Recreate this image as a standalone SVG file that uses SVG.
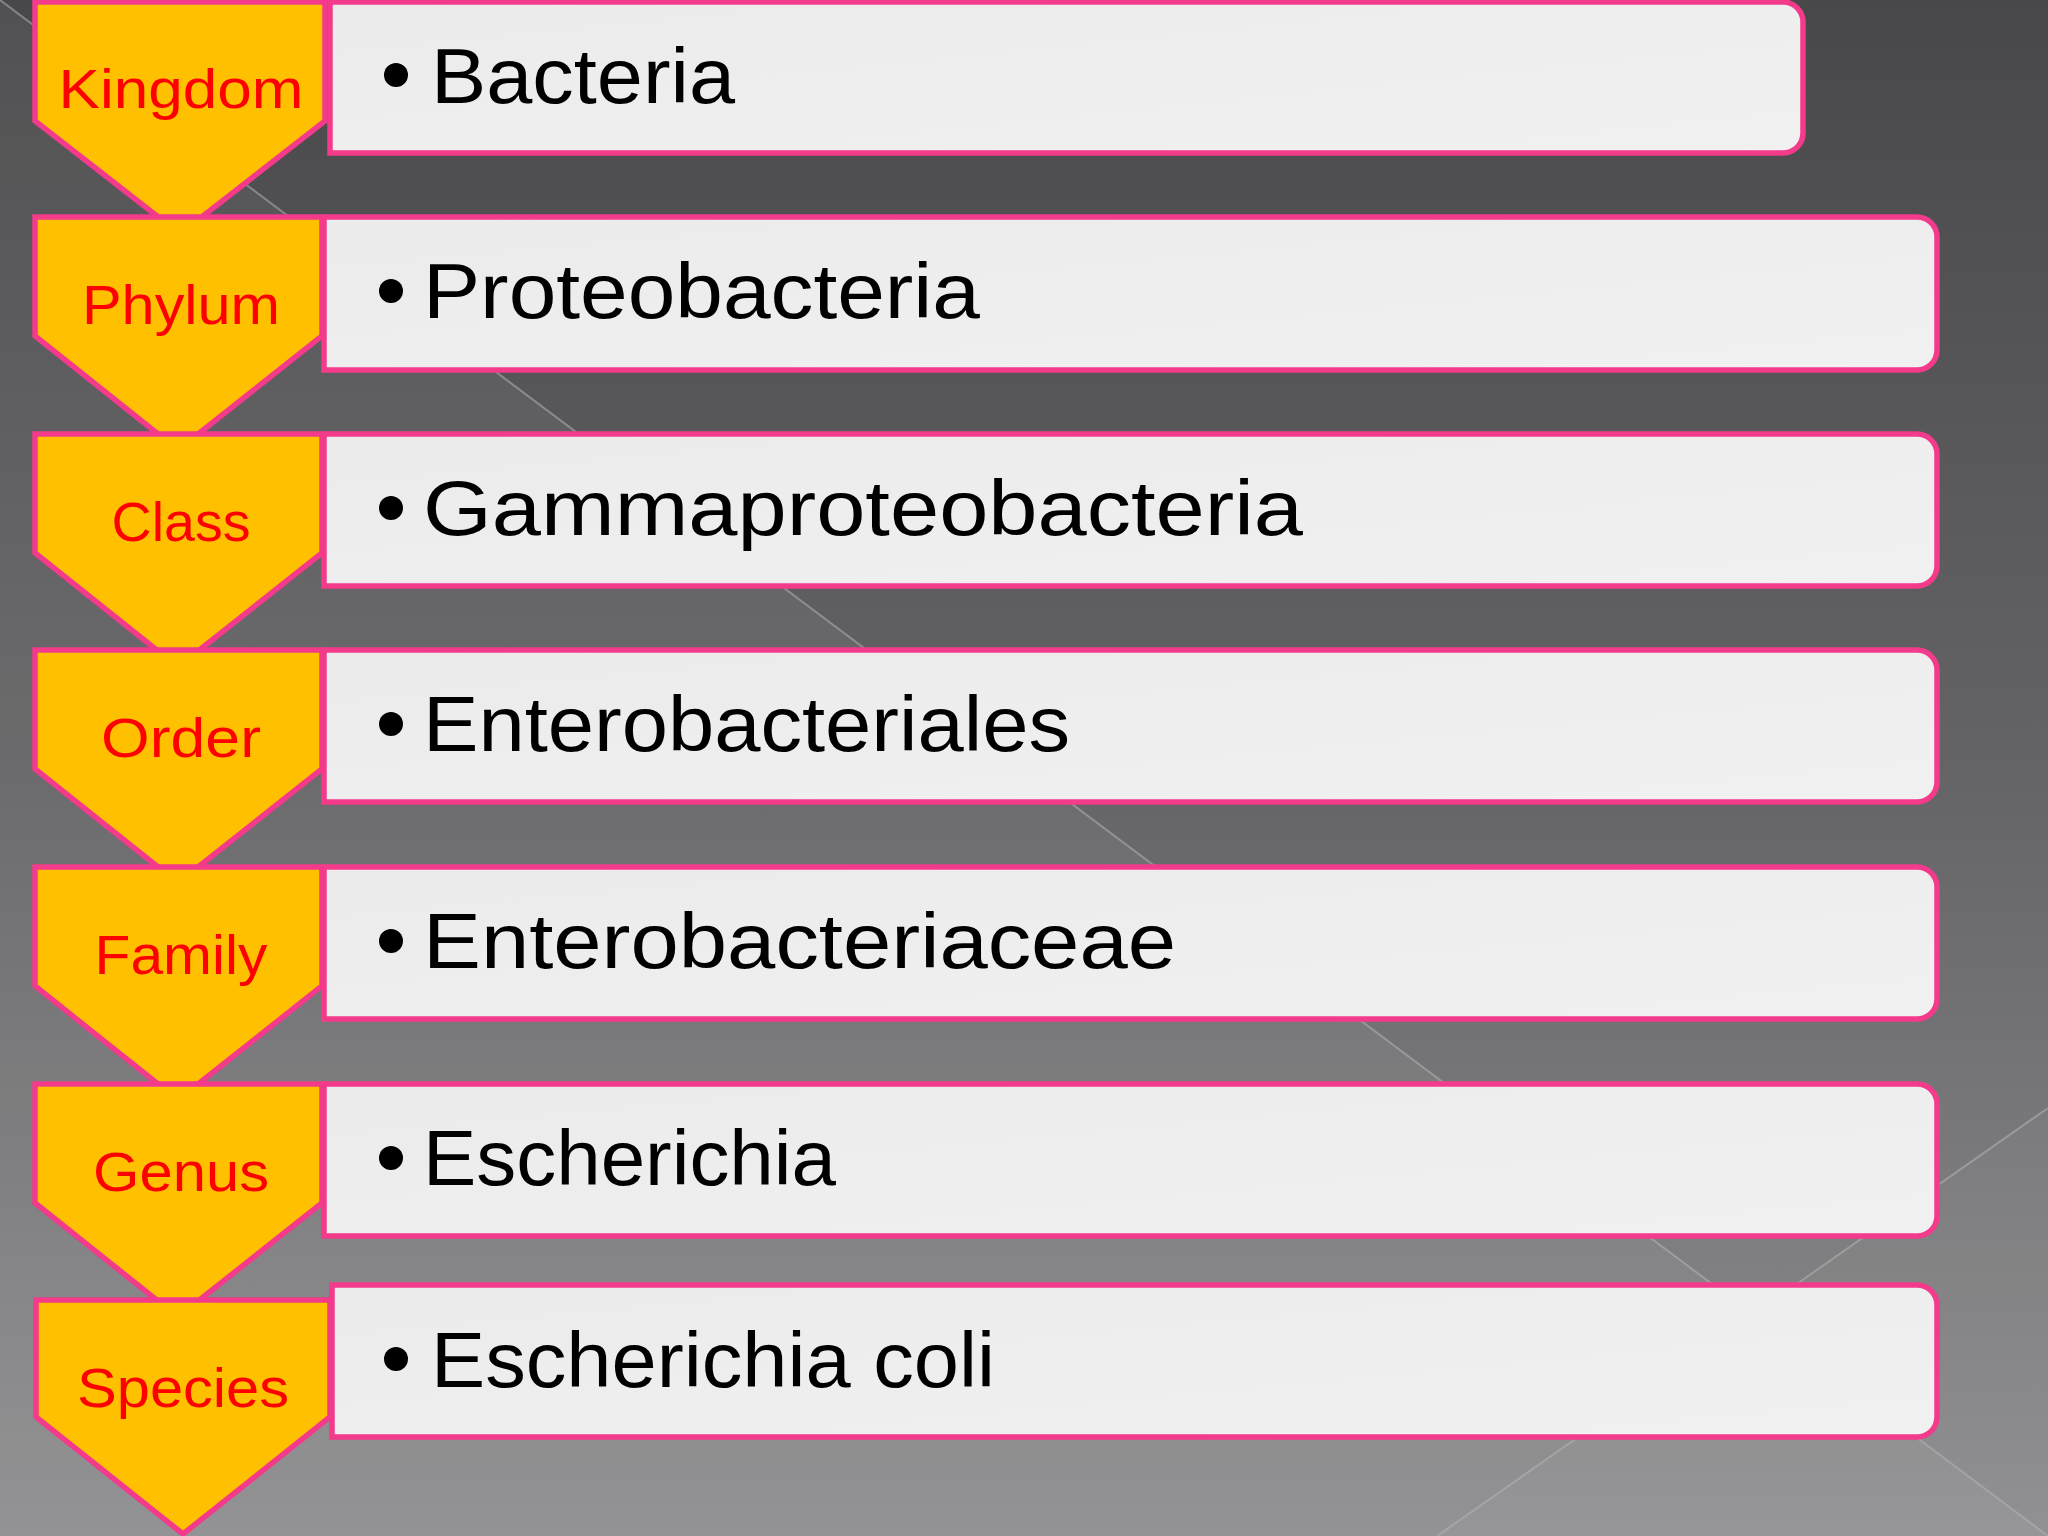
<svg xmlns="http://www.w3.org/2000/svg" width="2048" height="1536" viewBox="0 0 2048 1536">
  <defs>
    <linearGradient id="bg" x1="0" y1="0" x2="0" y2="1">
      <stop offset="0" stop-color="#48484a"/>
      <stop offset="0.5" stop-color="#646466"/>
      <stop offset="1" stop-color="#8e8e90"/>
    </linearGradient>
    <linearGradient id="boxfill" x1="0" y1="0" x2="1" y2="1">
      <stop offset="0" stop-color="#ebebeb"/>
      <stop offset="1" stop-color="#f1f1f2"/>
    </linearGradient>
    <style>
      .chev { fill: #ffc000; stroke: #f43a8a; stroke-width: 5.5; stroke-linejoin: miter; }
      .box { fill: url(#boxfill); stroke: #f43a8a; stroke-width: 5.5; }
      .lbl { font-family: "Liberation Sans", Arial, sans-serif; font-size: 56px; fill: #ff0000; text-anchor: middle; }
      .txt { font-family: "Liberation Sans", Arial, sans-serif; font-size: 77px; fill: #000000; }
      .dot { fill: #000000; }
      .deco { stroke: #b4b4b6; stroke-width: 2; opacity: 0.55; fill: none; }
    </style>
  </defs>

  <!-- background -->
  <rect x="0" y="0" width="2048" height="1536" fill="url(#bg)"/>
  <polygon points="0,0 2048,1536 0,1536" fill="#ffffff" opacity="0.05"/>
  <polygon points="2048,1108 1437,1536 2048,1536" fill="#ffffff" opacity="0.03"/>
  <line class="deco" x1="0" y1="0" x2="2048" y2="1536"/>
  <line class="deco" x1="2048" y1="1108" x2="1437" y2="1536"/>

  <g id="row-kingdom">
    <polygon class="chev" points="35,2 325,2 325,121 180,234 35,121"/>
    <path class="box" d="M330,2 H1783 A20,20 0 0 1 1803,22 V133 A20,20 0 0 1 1783,153 H330 Z"/>
    <text class="lbl" x="181" y="108" textLength="245" lengthAdjust="spacingAndGlyphs">Kingdom</text>
    <circle class="dot" cx="396" cy="75" r="12"/>
    <text class="txt" x="431" y="103" textLength="304" lengthAdjust="spacingAndGlyphs">Bacteria</text>
  </g>

  <g id="row-phylum">
    <polygon class="chev" points="35,217 322,217 322,336 178,450 35,336"/>
    <path class="box" d="M324,217 H1917 A20,20 0 0 1 1937,237 V350 A20,20 0 0 1 1917,370 H324 Z"/>
    <text class="lbl" x="181" y="324" textLength="198" lengthAdjust="spacingAndGlyphs">Phylum</text>
    <circle class="dot" cx="391" cy="291" r="12"/>
    <text class="txt" x="423" y="318" textLength="557" lengthAdjust="spacingAndGlyphs">Proteobacteria</text>
  </g>

  <g id="row-class">
    <polygon class="chev" points="35,434 322,434 322,553 178,667 35,553"/>
    <path class="box" d="M324,434 H1917 A20,20 0 0 1 1937,454 V566 A20,20 0 0 1 1917,586 H324 Z"/>
    <text class="lbl" x="181" y="541" textLength="139" lengthAdjust="spacingAndGlyphs">Class</text>
    <circle class="dot" cx="391" cy="508" r="12"/>
    <text class="txt" x="423" y="535" textLength="880" lengthAdjust="spacingAndGlyphs">Gammaproteobacteria</text>
  </g>

  <g id="row-order">
    <polygon class="chev" points="35,650 322,650 322,769 178,883 35,769"/>
    <path class="box" d="M324,650 H1917 A20,20 0 0 1 1937,670 V782 A20,20 0 0 1 1917,802 H324 Z"/>
    <text class="lbl" x="181" y="757" textLength="160" lengthAdjust="spacingAndGlyphs">Order</text>
    <circle class="dot" cx="391" cy="724" r="12"/>
    <text class="txt" x="423" y="751" textLength="647" lengthAdjust="spacingAndGlyphs">Enterobacteriales</text>
  </g>

  <g id="row-family">
    <polygon class="chev" points="35,867 322,867 322,986 178,1100 35,986"/>
    <path class="box" d="M324,867 H1917 A20,20 0 0 1 1937,887 V999 A20,20 0 0 1 1917,1019 H324 Z"/>
    <text class="lbl" x="181" y="974" textLength="173" lengthAdjust="spacingAndGlyphs">Family</text>
    <circle class="dot" cx="391" cy="941" r="12"/>
    <text class="txt" x="423" y="968" textLength="753" lengthAdjust="spacingAndGlyphs">Enterobacteriaceae</text>
  </g>

  <g id="row-genus">
    <polygon class="chev" points="35,1084 322,1084 322,1203 178,1317 35,1203"/>
    <path class="box" d="M324,1084 H1917 A20,20 0 0 1 1937,1104 V1216 A20,20 0 0 1 1917,1236 H324 Z"/>
    <text class="lbl" x="181" y="1191" textLength="176" lengthAdjust="spacingAndGlyphs">Genus</text>
    <circle class="dot" cx="391" cy="1158" r="12"/>
    <text class="txt" x="423" y="1185" textLength="413" lengthAdjust="spacingAndGlyphs">Escherichia</text>
  </g>

  <g id="row-species">
    <polygon class="chev" points="36,1300 330,1300 330,1417 183,1534 36,1417"/>
    <path class="box" d="M332,1285 H1917 A20,20 0 0 1 1937,1305 V1417 A20,20 0 0 1 1917,1437 H332 Z"/>
    <text class="lbl" x="183" y="1407" textLength="212" lengthAdjust="spacingAndGlyphs">Species</text>
    <circle class="dot" cx="396" cy="1359" r="12"/>
    <text class="txt" x="431" y="1387" textLength="564" lengthAdjust="spacingAndGlyphs">Escherichia coli</text>
  </g>

  <g id="connectors"></g>
</svg>
